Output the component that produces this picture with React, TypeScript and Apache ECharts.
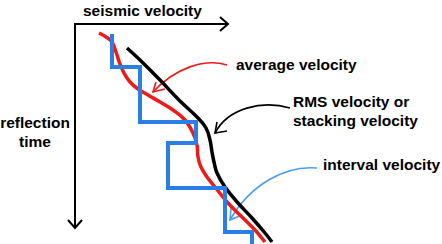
import React, { useEffect, useRef } from "react";
import * as echarts from "echarts";

// velocity (x) and reflection time (y), in arbitrary units from the axis origin
const intervalVelocity = [37, 65, 121, 93, 150, 177];
const layerTop = [10, 43, 98, 119, 164, 208];
const lastLayerBottom = 224;

const avgVelocity = [24, 31, 37, 41, 45, 49, 55, 63, 73, 85, 98, 110, 118, 122, 123, 126, 132, 140, 153, 167, 180, 190];
const avgTime = [9, 13, 18, 28, 40, 49, 58, 65, 71, 78, 86, 96, 109, 121, 133, 143, 153, 163, 179, 193, 206, 218];

const rmsVelocity = [52, 65, 85, 105, 122, 131, 135, 137, 139, 142, 150, 163, 177, 190, 197];
const rmsTime = [24, 36, 56, 77, 93, 104, 116, 128, 138, 149, 163, 179, 194, 209, 218];

const labels = {
  xTitle: "seismic velocity",
  yTitle: ["reflection", "time"],
  avg: "average velocity",
  rms: ["RMS velocity or", "stacking velocity"],
  interval: "interval velocity",
};

const BLUE = "#2a7fe6";
const RED = "#ee1a1a";
const FONT = "Liberation Sans";

export default function App() {
  const ref = useRef<HTMLDivElement>(null);
  useEffect(() => {
    if (!ref.current) return;
    const chart = echarts.init(ref.current, undefined, { renderer: "svg" });

    const stepPts: number[][] = [];
    intervalVelocity.forEach((v, i) => {
      const bottom = i + 1 < layerTop.length ? layerTop[i + 1] : lastLayerBottom;
      stepPts.push([v, layerTop[i]]);
      stepPts.push([v, bottom]);
    });
    const avgPts = avgVelocity.map((v, i) => [v, avgTime[i]]);
    const rmsPts = rmsVelocity.map((v, i) => [v, rmsTime[i]]);

    const txt = (text: string, x: number, y: number, align = "left") => ({
      type: "text",
      x,
      y,
      style: {
        text,
        fill: "#000",
        font: `bold 15.5px "${FONT}"`,
        align,
        verticalAlign: "middle",
      },
    });
    const line = (points: number[][], stroke: string, lineWidth: number) => ({
      type: "polyline",
      shape: { points },
      style: { stroke, lineWidth, fill: "none", lineJoin: "miter" },
    });
    const curve = (s: number[], stroke: string) => ({
      type: "bezierCurve",
      shape: { x1: s[0], y1: s[1], cpx1: s[2], cpy1: s[3], cpx2: s[4], cpy2: s[5], x2: s[6], y2: s[7] },
      style: { stroke, lineWidth: 1.6, fill: "none" },
    });

    chart.setOption({
      animation: false,
      grid: { left: 0, right: 0, top: 0, bottom: 0 },
      xAxis: { type: "value", min: -75, max: 367, show: false },
      yAxis: { type: "value", min: -24, max: 220, inverse: true, show: false },
      series: [
        {
          type: "line",
          data: avgPts,
          smooth: 0.4,
          showSymbol: false,
          lineStyle: { color: RED, width: 3.5 },
        },
        {
          type: "line",
          data: rmsPts,
          smooth: 0.4,
          showSymbol: false,
          lineStyle: { color: "#000", width: 3.5 },
        },
        {
          type: "line",
          data: stepPts,
          showSymbol: false,
          lineStyle: { color: BLUE, width: 4, join: "miter" },
        },
      ],
      graphic: [
        line([[75, 228], [75, 24], [228, 24]], "#000", 2),
        line([[220, 17], [228, 24], [220, 31]], "#000", 2),
        line([[68, 220], [75, 228], [82, 220]], "#000", 2),
        curve([227, 65, 205, 58, 175, 68, 153, 92], RED),
        line([[156, 82], [153, 92], [165, 89]], RED, 1.6),
        curve([290, 108, 262, 100, 228, 108, 215, 133], "#000"),
        line([[217, 122], [215, 133], [227, 131]], "#000", 1.6),
        curve([317, 168, 285, 165, 250, 185, 230, 220], "#4a9cf2"),
        line([[231, 208], [230, 220], [242, 215]], "#4a9cf2", 1.6),
        txt(labels.xTitle, 83, 10.6),
        txt(labels.yTitle[0], 35, 122.6, "center"),
        txt(labels.yTitle[1], 35, 141.6, "center"),
        txt(labels.avg, 236, 64.6),
        txt(labels.rms[0], 293, 101.6),
        txt(labels.rms[1], 293, 120.1),
        txt(labels.interval, 323, 164.6),
      ],
    });
    return () => chart.dispose();
  }, []);
  return (
    <div
      ref={ref}
      style={{ position: "fixed", left: 0, top: 0, width: 442, height: 244, background: "#fff" }}
    />
  );
}
